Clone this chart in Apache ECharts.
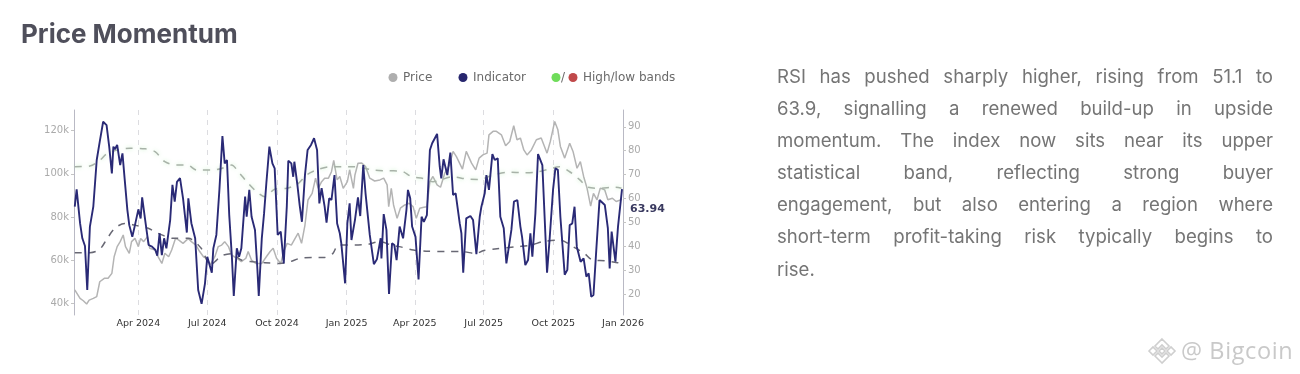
<!DOCTYPE html>
<html><head><meta charset="utf-8">
<script src="https://cdn.jsdelivr.net/npm/echarts@6/dist/echarts.min.js"></script>
<style>
html,body{margin:0;padding:0;background:#fff;width:1300px;height:374px;overflow:hidden}
#chart{position:absolute;left:0;top:0;width:1300px;height:374px}
#text{position:absolute;left:777px;top:60px;width:496px;font:18.6px/32.1px Inter,sans-serif;color:#757575}
#text div{text-align:justify;text-align-last:justify;white-space:nowrap}
#text div:last-child{text-align-last:left}
#title{position:absolute;left:21px;top:18px;font:700 26px/32px Inter,sans-serif;color:#4f4f5b}
#wm{position:absolute;left:1147px;top:335px;height:30px;font:23.5px/30px "Open Sans",sans-serif;color:#c9c9c9;letter-spacing:.6px;white-space:nowrap}
#wm svg{position:absolute;left:0;top:2px}
#wm span{position:absolute;left:34px;top:0}
</style></head><body>
<div id="chart"></div>
<div id="title">Price Momentum</div>
<div id="text">
<div>RSI has pushed sharply higher, rising from 51.1 to</div>
<div>63.9, signalling a renewed build-up in upside</div>
<div>momentum. The index now sits near its upper</div>
<div>statistical band, reflecting strong buyer</div>
<div>engagement, but also entering a region where</div>
<div>short-term profit-taking risk typically begins to</div>
<div>rise.</div>
</div>
<div id="wm"><svg width="30" height="28" viewBox="0 0 30 28" fill="none" stroke="#cfcfcf" stroke-width="1.6"><path d="M15 2l7 7-3 3-4-4-4 4-3-3zM2 14l4-4 4 4-4 4zM20 14l4-4 4 4-4 4zM15 26l-7-7 3-3 4 4 4-4 3 3zM12 14l3-3 3 3-3 3z"/></svg><span>@ Bigcoin</span></div>
<script>
const startDate = '2024-01-07';
const tickDates = ['2024-04-01','2024-07-01','2024-10-01','2025-01-01','2025-04-01','2025-07-01','2025-10-01','2026-01-01'];
const tickLabels = ['Apr 2024','Jul 2024','Oct 2024','Jan 2025','Apr 2025','Jul 2025','Oct 2025','Jan 2026'];
const priceTicks = [40,60,80,100,120];
const indicatorTicks = [20,30,40,50,60,70,80,90];

const indicatorDays = [1,3.5,8,11,14.5,17.5,21,25.5,30,34,38.5,43,46.5,50,52,54,57,61,64,67,70.5,73,77,80.5,85,88,90,94,98.5,103,107.5,110,113,116,119,122,127,130,133,136,140,144,149,151,155,160,164,168.5,173,176,182,
184,188,192,196,199,202,205,208.5,211,215,218,221,226,228,231.5,234.5,239,242,244,248,251,254,258,262,265,269,273,277,281,283,287,289.5,291,295,298,301,305,308.5,313,317,321,324,327,331,333.5,337,340,344,347.5,351,353,358,361,364,
366.4,371,375,378,382,385,390.6,396,400,405,406,409,412.6,416,420,423,426,430,434.6,439,441,444,446.5,451,455,459,462,466,470,473,479.5,483,485,488,493,497,500.6,504,509.4,511.6,514,518,523.5,527,531.4,535.8,538,542.4,544.6,548,
552.5,555.6,559.6,563,567.5,571,573,577.6,581,585.5,589.5,591.7,596,599.6,602.7,605.3,609.3,612.8,618.5,624.7,628,632.6,635.7,639,642.3,648,651.5,654.6,658,661,664,669,673,676.6,679.7,683,686,690,694,701,705,707.4,710,715,718.4,723.7];
const indicatorValues = [56.6,63.8,49.7,43.4,40.2,21.8,48.3,56.6,76.1,83.8,92.1,90.7,81.7,70.5,81.7,80.6,82.4,74,78.9,67.8,55.2,48.9,44,48.9,55.5,51.7,60.5,51,40.6,39.9,38.5,36.1,45.5,36.4,43.4,39.2,51,65.7,58.7,67,68.5,60.1,45.8,60.1,49.7,43.4,21.8,16,24.6,35.7,29,
39.2,44.8,63.6,86.1,74.7,76.1,53.1,35.7,19.3,39.2,35.7,39.2,60.8,52.4,63.6,52.4,46.9,31.5,19.3,43.4,53.8,66.4,81.7,74.7,72.6,44.8,46.2,32.9,56.6,75.8,74.7,69.1,75.4,65.7,57.3,50.3,69.8,80.3,82.4,85.2,80.3,58,64.3,56.6,49.9,60.1,59.4,69.8,49.6,45.5,41.3,24.6,49.6,58,
42.7,51,60.5,52.7,74,62.2,44.8,32.6,34.6,43.4,35,53.5,46.9,20.1,41.3,40.6,34.3,48.3,43.4,55.2,63.6,60.1,48.3,44,26.2,52.4,50.3,53.1,80.3,83.1,87,73.3,68.4,76.4,69.8,79.2,61.5,62.2,49.6,45.5,29,51.7,52.7,51,36.8,52.4,56.6,62.2,69.8,63.6,
78.6,76.1,76.8,52.4,47.6,32.9,33.6,46.9,58.7,59.4,48.3,44,32.2,34.3,45.5,35.7,53.8,78.6,74,29,42.7,63.6,72.6,72,52.4,28.2,30.2,48.9,49.6,56.6,39.9,33.6,35,27.4,28.8,19,19.7,39.9,59.4,57.3,47.6,30.8,46.2,33.6,48.3,63.94];

const priceDays = [1,3.5,8,12.3,16.7,20,25.5,30,34,40,45,50,53,57,61,65,68,73,76,80.5,85,88,92,97,100,107,111,116,120,125,129,134,138,144,151,155,161,166,171,175,180,
186,190.5,195,199,204,208,215,221,227,230,234.5,240,248,254,259,263,267.5,273,277,281.5,287,292,296,300.5,305,309,314.5,319,322.5,327,331,336,340,343,347.5,351,355.5,361,364,369,
371,375,380,385,390.6,397,404,409,413.5,415.6,419,422,426.7,431,436.8,442.5,447.8,452,456.6,462,466,470,474,479.5,484,489.6,496,500.6,505,513,518,525,530.5,535,540,545.5,548,553.4,
557.8,564.4,570,575.4,580.7,585,589.5,594,598.3,604,610.6,617,624.7,629,634.8,639,642.3,648,654.6,659,664.3,668.7,673,677.5,682.3,686,690.7,695,700.8,705,711,716,723.7];
const priceValues = [46.2,45.4,42.3,41.2,39.7,41.5,42.3,43.1,50,51.6,51.6,53.9,61.6,66.3,68.6,71.7,66.3,63.2,68.6,70.1,66.3,70.1,68.6,70.9,65.5,64.7,61.6,58.5,63.2,61.6,64.7,70.1,69.4,67.8,70.1,68.6,67,64,61.6,60.9,58,
61.6,66.3,67,68.6,66.3,62.4,60.9,59.3,60.9,64,60,58.5,58.5,61.6,64,65.5,60.9,58.5,64,67.8,67,70.1,72.5,67.8,76.3,87.9,91,98,93.3,96.4,98,98,101,106.2,97.2,98.8,93.3,96.4,101.9,93.3,
99.5,104.9,105,103.4,98,96.7,97.2,98,94.9,84.8,93.3,85.6,79.4,84.1,85.6,86.4,84.8,79.4,84.1,84.5,84.8,96.4,98.8,94.9,93.8,100.3,104.2,110.4,108,102.2,110.4,105,101.9,107.3,108.8,109.6,118.1,119.7,
119.7,118.1,113,115,122.3,115.8,116.6,111.1,108.8,111.1,115.8,116.6,109.6,115,124.3,120.4,112.7,107.3,114.2,110.4,102.6,105.7,98.8,93.4,85.1,91,88,93.4,92.6,88,88.7,87.2,88.2];

const upperDays = [1,21,34,44,60,74,94,107,120,135,150,162,182,195,208,217,230,241,252,265,281,295,307,320,338,355.5,371,395,415,432,446,461,474,500,518,536,553,575,593,610,626,641,654.6,668,679,694,714,723];
const upperValues = [73.3,73.6,76,78.9,80.5,81,80.8,79.6,75.4,74,74,71.9,71.9,72.6,74,71.2,66.4,62.9,60.8,63.9,64.3,66,69.8,71.9,73.3,73.3,73.3,71.9,71.6,71.5,69.1,68.4,67,69.1,68.2,68,69.8,71,70.8,71,72.2,73.3,71.2,67.8,64.7,64.3,64.7,64.3];
const lowerDays = [1,21,34,44,54,67,80,98,111,131,151,168,180,186,195,208,221,237,252,272,285,298,316,331,342,349,371,388,404,419,434,448,465,492,514,531,540,553,586,604,619,641,659,674,685,701,718,723];
const lowerValues = [37.4,37.4,38.8,43.4,47.6,49.6,48.9,47.6,45.5,43.4,43.4,39.2,32.2,33.6,36.1,37,34.3,33.6,33.2,32.9,33.6,35,35.4,35.4,37.1,40.6,40.6,40.9,42,40.6,39.6,38.5,38,37.9,37.8,37,38.2,38.8,39.9,40.6,42,42.7,39.9,37.1,34.3,34,33.2,33];

const DAY = 86400000;
const t0 = Date.parse(startDate + 'T00:00:00Z');
const toPairs = (days, vals) => days.map((d, i) => [t0 + d * DAY, vals[i]]);
const tickTimes = tickDates.map(d => Date.parse(d + 'T00:00:00Z'));
const labelFont = 'DejaVu Sans';
const dot = (cx, color) => ({type:'circle', shape:{cx, cy:77.5, r:4.5}, style:{fill:color}, silent:true});
const legendText = (x, text) => ({type:'text', x, y:78, style:{text, fill:'#6a6a6a', font:'12px "DejaVu Sans"', verticalAlign:'middle', align:'left'}, silent:true});

const chart = echarts.init(document.getElementById('chart'), null, {renderer:'canvas'});
chart.setOption({
  animation:false,
  backgroundColor:'#fff',
  grid:{left:74, right:677, top:110, bottom:59},
  graphic:[dot(393,'#aeaeae'),legendText(403,'Price'),dot(463,'#27266e'),legendText(473,'Indicator'),
    dot(556,'#6fdc5a'),legendText(561,'/'),dot(573,'#c0494a'),legendText(583,'High/low bands')],
  xAxis:{type:'value', min:t0, max:tickTimes[tickTimes.length-1],
    axisLine:{show:false},
    axisTick:{show:false, customValues:tickTimes},
    axisLabel:{customValues:tickTimes, color:'#333', fontFamily:labelFont, fontSize:9.5, margin:4, hideOverlap:false,
      formatter:v => tickLabels[tickTimes.indexOf(v)] ?? ''},
    splitLine:{show:true, lineStyle:{color:'#dcdce0', type:[5,5], width:1}}},
  yAxis:[
    {type:'value', position:'left', min:34.6, max:129.6,
      axisLine:{show:true, lineStyle:{color:'#b9b9c4'}},
      axisTick:{show:true, length:3, customValues:priceTicks, lineStyle:{color:'#c4c4c4'}},
      axisLabel:{customValues:priceTicks, color:'#aaa', fontFamily:labelFont, fontSize:10, margin:5, formatter:v => v + 'k'},
      splitLine:{show:false}},
    {type:'value', position:'right', min:11.35, max:97,
      axisLine:{show:true, onZero:false, lineStyle:{color:'#b9b9c4'}},
      axisTick:{show:true, length:3, customValues:indicatorTicks, lineStyle:{color:'#c4c4c4'}},
      axisLabel:{customValues:indicatorTicks, color:'#aaa', fontFamily:labelFont, fontSize:10, margin:5},
      splitLine:{show:false}}
  ],
  series:[
    {name:'Price', type:'line', yAxisIndex:0, data:toPairs(priceDays, priceValues), showSymbol:false, lineStyle:{color:'#b4b4b4', width:1.5}, z:2},
    {name:'High band', type:'line', yAxisIndex:1, data:toPairs(upperDays, upperValues), smooth:0.3, showSymbol:false, lineStyle:{color:'#a8b2a8', width:1.5, type:[7,7], shadowColor:'rgba(120,220,120,0.4)', shadowBlur:4}, z:3},
    {name:'Low band', type:'line', yAxisIndex:1, data:toPairs(lowerDays, lowerValues), smooth:0.3, showSymbol:false, lineStyle:{color:'#686874', width:1.5, type:[7,7]}, z:3},
    {name:'Indicator', type:'line', yAxisIndex:1, data:toPairs(indicatorDays, indicatorValues), showSymbol:false, lineStyle:{color:'#2a2a76', width:1.9}, z:4,
      endLabel:{show:true, formatter:'63.94', color:'#3a3a60', fontFamily:labelFont, fontWeight:'bold', fontSize:11, distance:8, offset:[0,20]}}
  ]
});
</script>
</body></html>
